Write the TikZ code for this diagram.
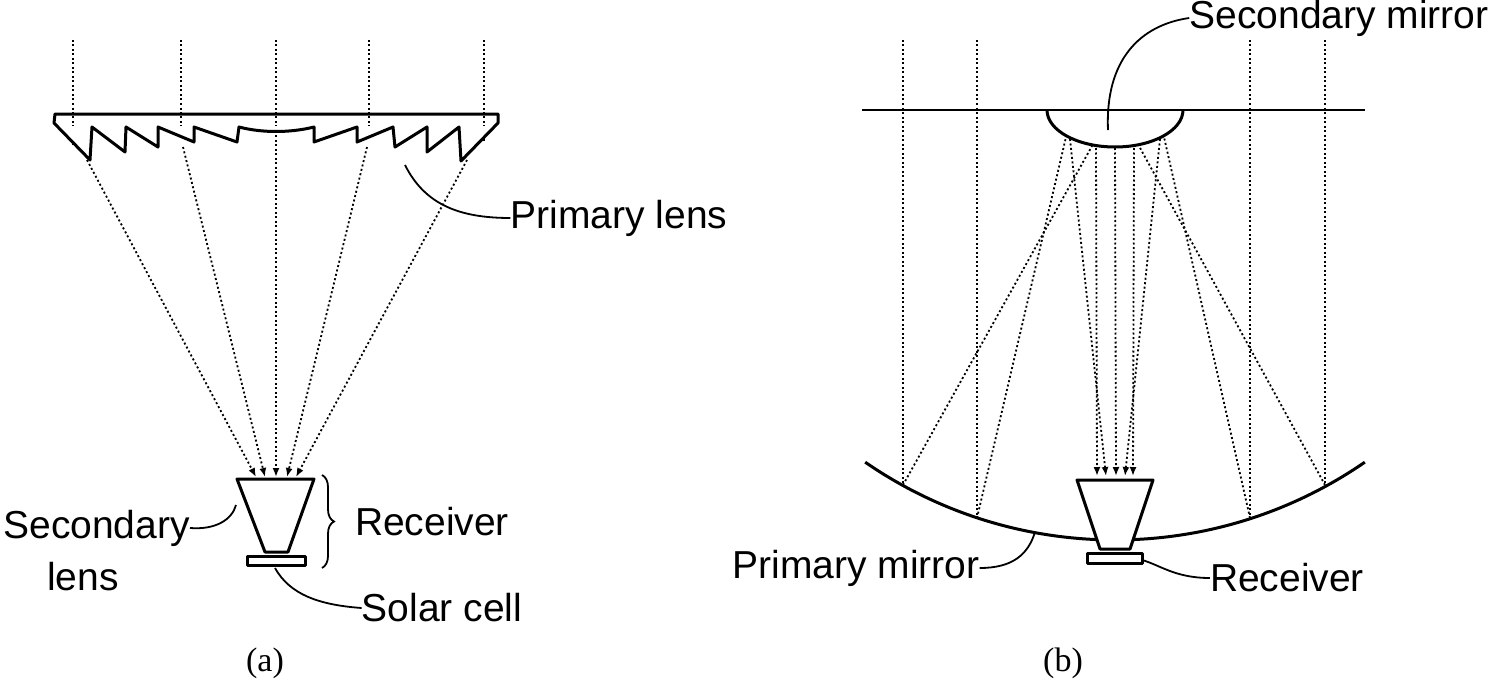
\documentclass[tikz,border=0pt]{standalone}
\usepackage{fontspec}
\setmainfont{Liberation Sans}
\usetikzlibrary{arrows.meta,decorations.pathreplacing}
\begin{document}
\begin{tikzpicture}[x=1pt,y=-1pt,
  solid line/.style={line width=3pt,line join=round},
  ray/.style={line width=1.8pt,dash pattern=on 2pt off 2.5pt},
  arr/.style={ray,-{Latex[length=9pt,width=7pt]}},
  lead/.style={line width=1.8pt},
  lbl/.style={font=\fontsize{39}{44}\selectfont,inner sep=0pt},
  captxt/.style={font=\fontspec{Liberation Serif}\fontsize{34}{38}\selectfont,inner sep=0pt}]
\useasboundingbox (0,0) rectangle (1500,685);
% ---------- (a) ----------
\foreach \x/\n in {73/a1,181/a2,276/a3,369/a4,484/a5}{\coordinate (t\n) at (\x,40);}
\coordinate (l1) at (73,145); \coordinate (l2) at (181,127); \coordinate (l3) at (276,132);
\coordinate (l4) at (369,137); \coordinate (l5) at (484,141);
\foreach \n in {1,...,5}{\draw[ray] (ta\n) -- (l\n);}
\coordinate (b1) at (87,160); \coordinate (b2) at (183,147); \coordinate (b3) at (276,135);
\coordinate (b4) at (367,147); \coordinate (b5) at (467,160);
\coordinate (r1) at (256,477); \coordinate (r2) at (265,477); \coordinate (r3) at (276,477);
\coordinate (r4) at (287,477); \coordinate (r5) at (296,477);
\foreach \n in {1,...,5}{\draw[arr] (b\n) -- (r\n);}
\draw[solid line,fill=white] (55,114) -- (498,114) -- (498,123) -- (461,161) -- (459,127) -- (427,152) -- (427,127)
  -- (395,147) -- (393,127) -- (357,142) -- (357,127) -- (314,142) -- (314,127)
  .. controls (290,133) and (262,133) .. (239,127) -- (237,142) -- (194,127) -- (194,142)
  -- (158,127) -- (158,147) -- (126,127) -- (125,152) -- (92,127) -- (90,160) -- (54,123) -- cycle;
\foreach \x in {73,181,276,369,484}{\draw[ray] (\x,116) -- (\x,126);}
% receiver a
\draw[solid line] (237,479) -- (314,479) -- (288,552) -- (265,552) -- cycle;
\draw[solid line] (247,556) rectangle (305,565);
\draw[lead,decorate,decoration={brace,amplitude=12pt}] (322,475) -- (322,568);
\node[lbl] (recA) at (432,522) {Receiver};
\node[lbl] (plens) at (619,218) {Primary lens};
\coordinate (plA) at (405,165);
\draw[lead] (plA) .. controls (425,205) and (460,218) .. (plens.west);
\node[lbl,anchor=east] (sec) at (190,528) {Secondary};
\node[lbl,anchor=west] (lens) at (47,577) {lens};
\coordinate (slA) at (236,505);
\draw[lead] (sec.east) .. controls (215,530) and (232,520) .. (slA);
\node[lbl] (scell) at (442,608) {Solar cell};
\coordinate (scA) at (275,568);
\draw[lead] (scA) .. controls (290,595) and (320,605) .. (scell.west);
\node[captxt] (capa) at (265,663) {(a)};
% ---------- (b) ----------
\draw[solid line,fill=white] (1047,110) arc[start angle=180,end angle=0,x radius=68,y radius=37];
\draw[solid line,line width=2.6pt] (862,110) -- (1365,110);
\draw[solid line] (1115,100) ++(124.6:440) arc[start angle=124.6,end angle=55.4,radius=440];
\coordinate (m1) at (903,485); \coordinate (m2) at (977,518);
\coordinate (m3) at (1250,518); \coordinate (m4) at (1325,485);
\foreach \x/\n in {903/1,977/2,1250/3,1325/4}{\coordinate (v\n) at (\x,40); \draw[ray] (v\n) -- (m\n);}
\coordinate (s1) at (1066,137); \coordinate (s2) at (1092,146);
\coordinate (s3) at (1139,146); \coordinate (s4) at (1164,137);
\draw[ray] (m1) -- (s2); \draw[ray] (m2) -- (s1);
\draw[ray] (m3) -- (s4); \draw[ray] (m4) -- (s3);
\coordinate (q1) at (1070,139); \coordinate (q2) at (1096,148); \coordinate (q3) at (1134,148); \coordinate (q4) at (1160,139);
\coordinate (e1) at (1097,476); \coordinate (e2) at (1106,476); \coordinate (e3) at (1116,476);
\coordinate (e4) at (1125,476); \coordinate (e5) at (1133,476);
\draw[arr] (q1) -- (e2); \draw[arr] (q2) -- (e1); \draw[arr] (1115,148) -- (e3);
\draw[arr] (q3) -- (e5); \draw[arr] (q4) -- (e4);
\draw[solid line,fill=white] (1077,480) -- (1153,480) -- (1130,549) -- (1100,549) -- cycle;
\draw[solid line,fill=white] (1087,553) rectangle (1142,563);
\node[lbl] (smir) at (1339,18) {Secondary mirror};
\coordinate (smA) at (1108,130);
\draw[lead] (smA) .. controls (1105,60) and (1140,25) .. (smir.west);
\node[lbl] (pmir) at (856,568) {Primary mirror};
\coordinate (pmA) at (1035,532);
\draw[lead] (pmir.east) .. controls (1012,568) and (1028,555) .. (pmA);
\node[lbl] (recB) at (1287,578) {Receiver};
\coordinate (rbA) at (1142,560);
\draw[lead] (rbA) .. controls (1160,565) and (1175,578) .. (recB.west);
\node[captxt] (capb) at (1063,663) {(b)};
\end{tikzpicture}
\end{document}
